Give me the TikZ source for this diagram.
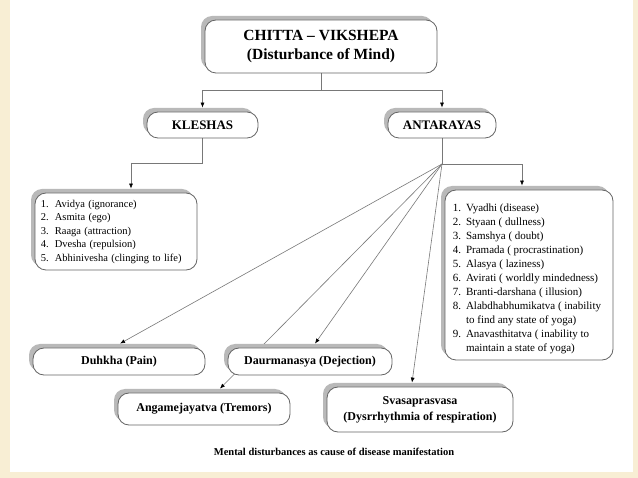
\documentclass[tikz,border=0pt]{standalone}
\usepackage{fontspec}
\setmainfont{Liberation Serif}
\usetikzlibrary{arrows.meta,shadows,backgrounds}
\pgfdeclarelayer{back}
\pgfsetlayers{back,background,main}
\definecolor{cream}{RGB}{248,238,212}
\definecolor{boxline}{RGB}{100,100,100}
\definecolor{conn}{RGB}{120,120,120}
\tikzset{
  box/.style={rectangle, rounded corners=11pt, draw=boxline, line width=0.8pt, fill=white,
    inner sep=0pt, align=center, font=\bfseries\fontsize{12}{15}\selectfont,
    general shadow={shadow xshift=-4pt, shadow yshift=4pt, fill=gray!55}},
  listbox/.style={box, align=left, font=\normalfont},
  conline/.style={draw=conn, line width=0.6pt},
  arr/.style={conline, -{Latex[length=5pt,width=4pt,black]}},
}
\begin{document}
\begin{tikzpicture}[x=1pt,y=-1pt]
\useasboundingbox (0,0) rectangle (638,478);
\begin{pgfonlayer}{back}
  \fill[cream] (0,0) rectangle (638,478);
  \fill[white] (10,0) rectangle (633,472);
\end{pgfonlayer}

\node[box, minimum width=232pt, minimum height=53pt, font=\bfseries\fontsize{15.5}{19}\selectfont] (top) at (321,46.5) {CHITTA -- VIKSHEPA\\(Disturbance of Mind)};
\node[box, minimum width=111pt, minimum height=26pt, font=\bfseries\fontsize{13}{14}\selectfont] (klesh) at (202.5,125) {KLESHAS};
\node[box, minimum width=108pt, minimum height=26pt, font=\bfseries\fontsize{13}{14}\selectfont] (antar) at (442,125) {ANTARAYAS};

\node[listbox, minimum width=162pt, minimum height=77pt, text width=150pt, inner xsep=6pt] (klist) at (116,231.5) {\fontsize{10.5}{13.5}\selectfont
\begin{tabular}{@{}l@{\hspace{6pt}}l@{}}
1. & Avidya (ignorance)\\
2. & Asmita (ego)\\
3. & Raaga (attraction)\\
4. & Dvesha (repulsion)\\
5. & Abhinivesha (clinging to life)
\end{tabular}};

\node[listbox, minimum width=168pt, minimum height=170pt] (alist) at (529,275) {};
\node[anchor=north west, inner sep=0pt, align=left, font=\fontsize{11}{14}\selectfont] (alisttext) at ([xshift=8pt,yshift=-12pt]alist.north west) {%
\begin{tabular}{@{}l@{\hspace{5pt}}l@{}}
1. & Vyadhi (disease)\\
2. & Styaan ( dullness)\\
3. & Samshya ( doubt)\\
4. & Pramada ( procrastination)\\
5. & Alasya ( laziness)\\
6. & Avirati ( worldly mindedness)\\
7. & Branti-darshana ( illusion)\\
8. & Alabdhabhumikatva ( inability\\
   & to find any state of yoga)\\
9. & Anavasthitatva ( inability to\\
   & maintain a state of yoga)
\end{tabular}};

\node[box, minimum width=172pt, minimum height=27pt] (duhkha) at (119,361.5) {Duhkha (Pain)};
\node[box, minimum width=164pt, minimum height=27pt] (daur) at (310,361.5) {Daurmanasya (Dejection)};
\node[box, minimum width=172pt, minimum height=32pt] (angame) at (204,409) {Angamejayatva (Tremors)};
\node[box, minimum width=186pt, minimum height=45pt, font=\bfseries\fontsize{12}{16}\selectfont] (svasa) at (420,409.5) {Svasaprasvasa\\(Dysrrhythmia of respiration)};

\node[font=\bfseries\fontsize{10.5}{12}\selectfont, inner sep=0pt] (cap) at (334,452) {Mental disturbances as cause of disease manifestation};

\begin{scope}[on background layer]
  \coordinate (j1) at (321,90);
  \coordinate (j2) at (131,163);
  \coordinate (hub) at (442,164);
  \draw[conline] (top.south) -- (j1);
  \draw[arr] (j1) -| ([yshift=4pt]klesh.north);
  \draw[arr] (j1) -| ([yshift=4pt]antar.north);
  \draw[conline] (klesh.south) |- (j2);
  \draw[arr] (j2) -- ([yshift=4pt]j2 |- klist.north);
  \draw[conline] (antar.south) -- (hub);
  \draw[arr] (hub) -| ([xshift=-7pt,yshift=4pt]alist.north);
  \draw[arr] (hub) -- ([xshift=1pt,yshift=4pt]duhkha.north);
  \draw[arr] (hub) -- ([xshift=16pt,yshift=4pt]angame.north);
  \draw[arr] (hub) -- ([xshift=5pt,yshift=4pt]daur.north);
  \draw[arr] (hub) -- ([xshift=-8pt,yshift=4pt]svasa.north);
\end{scope}
\end{tikzpicture}
\end{document}
